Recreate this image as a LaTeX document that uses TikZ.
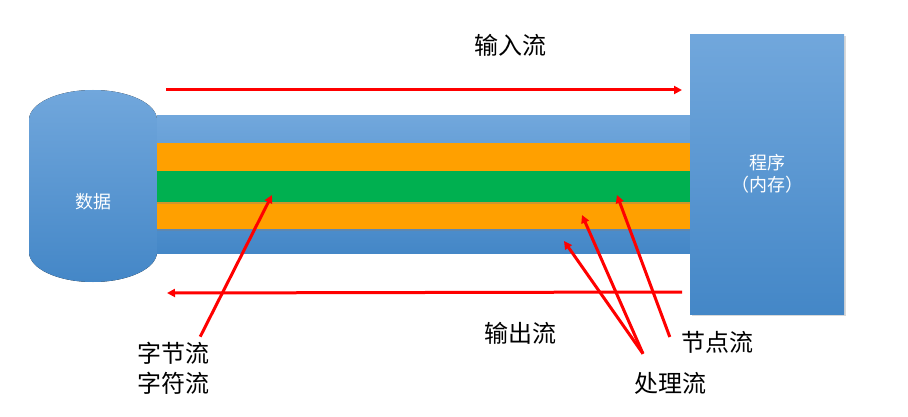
\documentclass[tikz,border=0pt]{standalone}
\usepackage{fontspec}
\setmainfont{Noto Sans CJK SC}
\usetikzlibrary{positioning,arrows.meta,shadows}

\definecolor{bluetop}{RGB}{113,167,220}
\definecolor{bluebot}{RGB}{68,135,199}
\definecolor{bandorange}{RGB}{255,160,0}
\definecolor{bandgreen}{RGB}{0,176,80}

\begin{document}
\begin{tikzpicture}[x=1pt,y=-1pt,>={Triangle[length=8pt,width=8pt]},node distance=30pt,
    flow/.style={red,line width=3pt},
    label node/.style={font=\fontsize{24}{30}\selectfont,inner sep=2pt},
    white node/.style={font=\fontsize{18}{22}\selectfont,text=white,align=center},
    blue fill/.style={top color=bluetop,bottom color=bluebot,draw=none},
    band/.style={draw=none,drop shadow={opacity=0.35,shadow xshift=0pt,shadow yshift=-1.5pt}}]
    \useasboundingbox (0,0) rectangle (908,417);

    % cylinder and pipe
    \fill[blue fill] (29,120) arc[start angle=180,end angle=0,x radius=64pt,y radius=30pt]
        -- (157,252) arc[start angle=0,end angle=-180,x radius=64pt,y radius=30pt] -- cycle;
    \fill[blue fill] (157,116) rectangle (690,253);
    \fill[bandorange,band] (157,143) rectangle (690,171);
    \fill[bandorange,band] (157,202) rectangle (690,229);
    \fill[bandgreen,band] (157,171) rectangle (690,202);
    \fill[blue fill,drop shadow={opacity=0.3,shadow xshift=1.5pt,shadow yshift=-1.5pt}] (690,35) rectangle (844,314);

    \node[white node] (data) at (93,202) {数据};
    \node[white node] (prog) at (767,174) {程序\\（内存）};

    % labels
    \node[label node] (in) at (510,45) {输入流};
    \node[label node] (out) at (520,333) {输出流};
    \node[label node] (byte) at (173,353) {字节流};
    \node[label node] (char) [below of = byte] {字符流};
    \node[label node] (node) at (717,342) {节点流};
    \node[label node] (proc) at (670,383) {处理流};

    \coordinate (inS) at (166,90);
    \coordinate (inE) at (682,90);
    \coordinate (outS) at (682,292);
    \coordinate (outE) at (167,293);
    \coordinate (tipGreenL) at (272,195);
    \coordinate (tipGreenR) at (617,195);
    \coordinate (tipOrange) at (582,215);
    \coordinate (tipBlue) at (564,241);

    \draw[flow,->] (inS) -- (inE);
    \draw[flow,->] (outS) -- (outE);
    \draw[flow,->] ([xshift=-11pt,yshift=3pt]byte.north east) -- (tipGreenL);
    \draw[flow,->] ([xshift=-9pt,yshift=5pt]node.west) -- (tipGreenR);
    \draw[flow,->] ([xshift=-27pt,yshift=16pt]proc.north) -- (tipOrange);
    \draw[flow,->] ([xshift=-27pt,yshift=16pt]proc.north) -- (tipBlue);
\end{tikzpicture}
\end{document}
